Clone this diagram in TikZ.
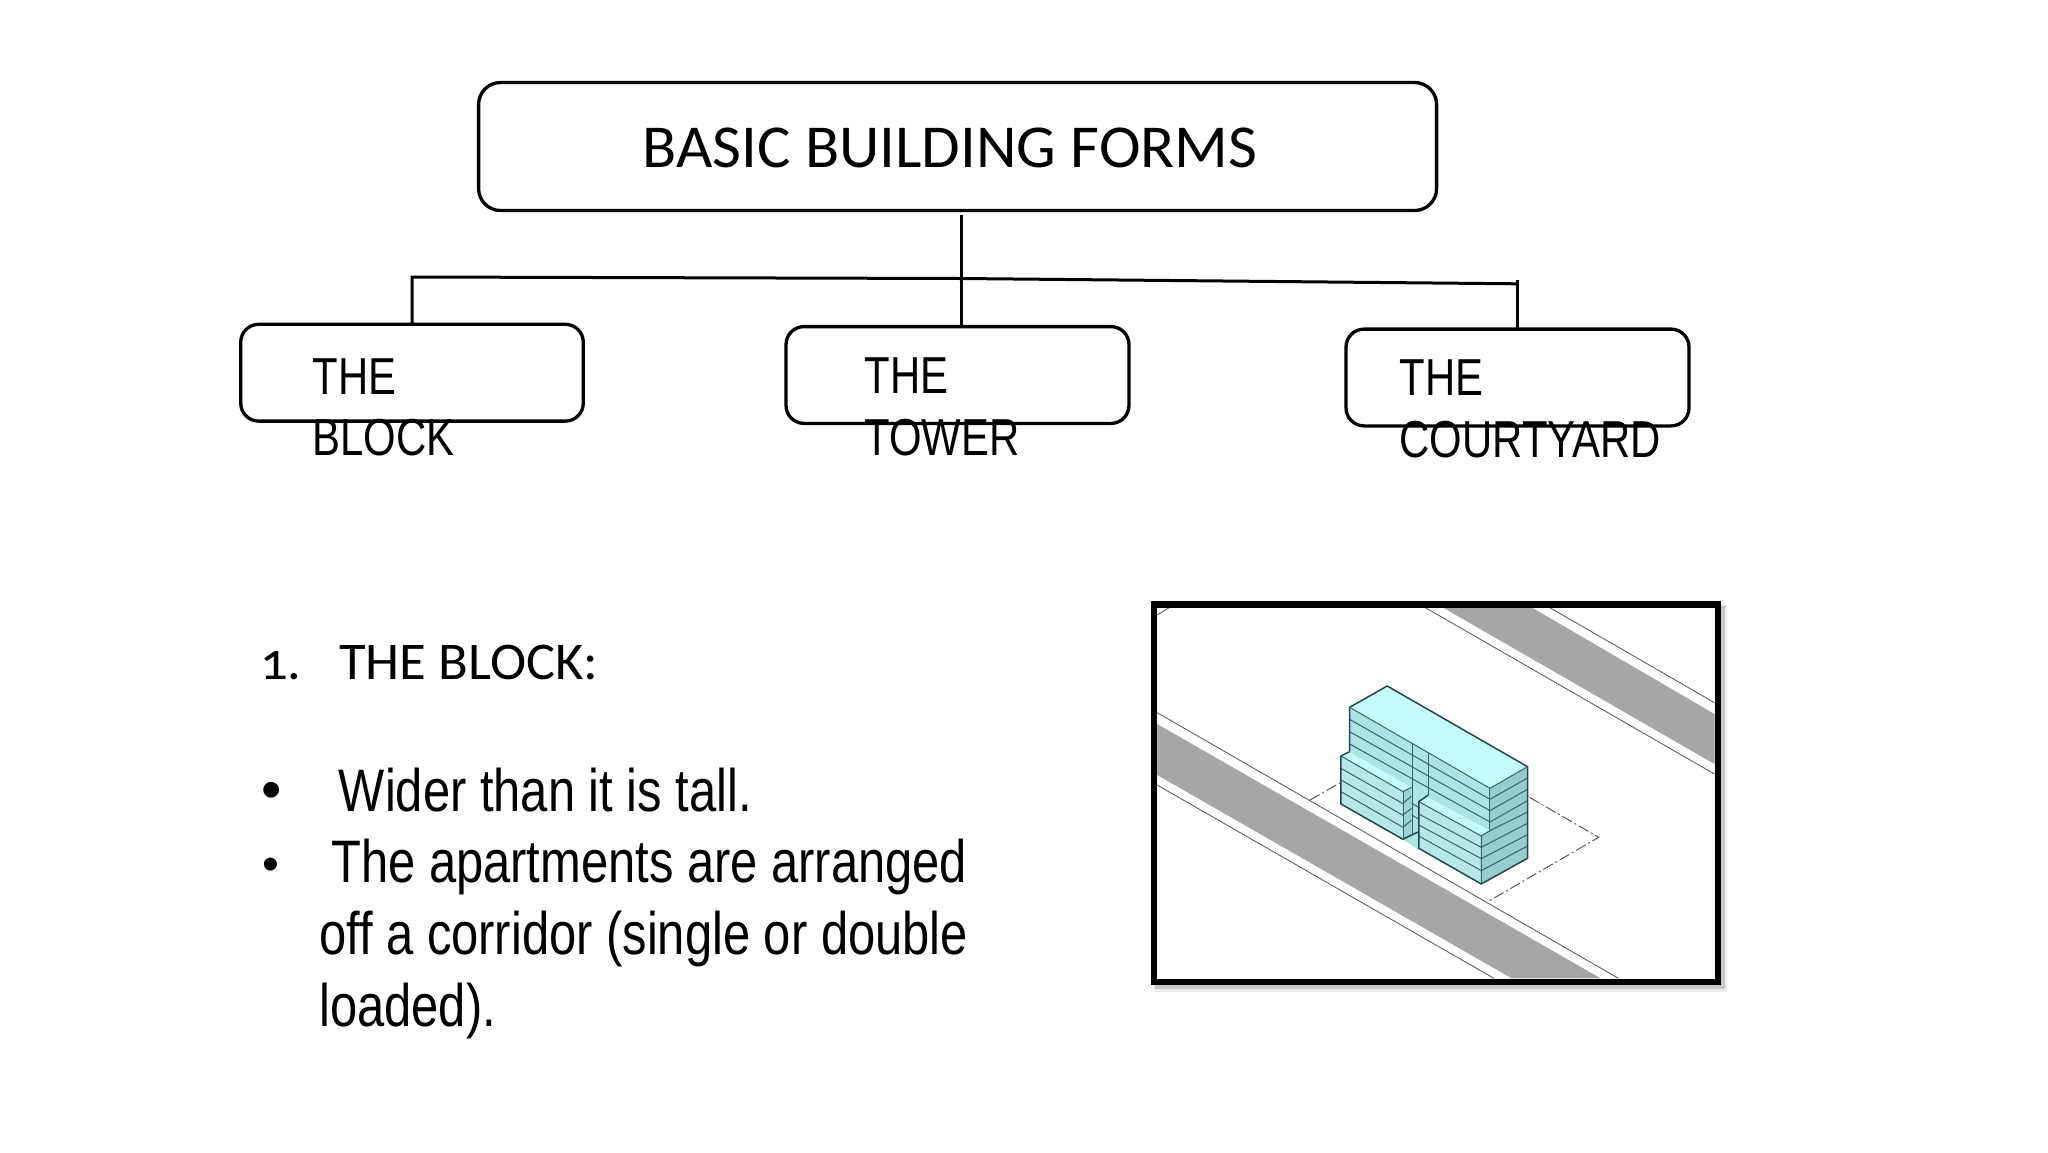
\documentclass[tikz,border=0pt]{standalone}
\usepackage{fontspec}
\setmainfont{Liberation Sans}
\newfontfamily\narrowf[FakeStretch=0.805]{Liberation Sans}
\newfontfamily\bodyf[FakeStretch=0.815]{Liberation Sans}
\newfontfamily\carl[Numbers=OldStyle,FakeStretch=1.03]{Carlito}
\definecolor{topc}{HTML}{C6FBFB}
\definecolor{frontc}{HTML}{ACE4E2}
\definecolor{sidec}{HTML}{95CDCC}
\definecolor{edgec}{HTML}{24464C}
\definecolor{floorc}{HTML}{35646A}
\definecolor{roadc}{HTML}{A6A5A7}
\tikzset{
  formbox/.style={draw=black,line width=3.3pt,rounded corners=18pt,fill=none,inner sep=0pt},
  link/.style={draw=black,line width=3pt},
  boxlabel/.style={inner sep=0pt,align=left,anchor=base west,font=\narrowf\fontsize{52}{61.5}\selectfont},
  bodytext/.style={inner sep=0pt,align=left,anchor=base west,font=\bodyf\fontsize{60}{72}\selectfont},
  heading/.style={inner sep=0pt,anchor=base west,font=\carl\fontsize{53}{60}\selectfont},
  thinline/.style={draw=black!62,line width=0.9pt},
  floor/.style={draw=floorc,line width=1pt},
  edge/.style={draw=edgec,line width=1.5pt,line join=round},
  plot/.style={draw=black!65,line width=1pt,dash pattern=on 11pt off 3pt on 2pt off 3pt}
}
\begin{document}
\begin{tikzpicture}[x=1pt,y=-1pt]
\useasboundingbox (0,0) rectangle (2048,1152);
\fill[white] (0,0) rectangle (2048,1152);
% tree
\node[formbox,rounded corners=22pt,minimum width=958pt,minimum height=128pt] (root) at (957.6,146.5) {};
\node[inner sep=0pt,anchor=base,font=\carl\fontsize{61}{70}\selectfont] (roottext) at (950,167.5) {BASIC BUILDING FORMS};
\node[formbox,minimum width=342.6pt,minimum height=96.8pt] (block) at (412,372.7) {};
\node[formbox,minimum width=343pt,minimum height=96.8pt] (tower) at (957.5,375) {};
\node[formbox,minimum width=343pt,minimum height=96.8pt] (court) at (1517.5,377.5) {};
\node[boxlabel] (blocktext) at (312.5,455.5) {THE\\BLOCK};
\node[boxlabel] (towertext) at (864.4,455.2) {THE\\TOWER};
\node[boxlabel] (courttext) at (1399.5,457) {THE\\COURTYARD};
\coordinate (rootfoot) at (961.5,214.5);
\coordinate (towerhead) at (961.5,327);
\coordinate (midbar) at (961.5,278.5);
\coordinate (leftbar) at (412,277);
\coordinate (rightbar) at (1517,283.8);
\coordinate (blockhead) at (412,324.5);
\coordinate (courthead) at (1517,329.2);
\coordinate (righttop) at (1517,280);
\draw[link] (rootfoot) -- (towerhead);
\draw[link] (blockhead) -- (leftbar) -- (midbar) -- (rightbar);
\draw[link] (righttop) -- (courthead);
% text
\node[heading] (num) at (260,679) {1.};
\node[heading] (blockhd) at (339,679) {THE BLOCK:};
\node[inner sep=0pt,font=\fontsize{58}{60}\selectfont] (bull1) at (272,796) {•};
\node[inner sep=0pt,font=\fontsize{48}{60}\selectfont] (bull2) at (270.7,869.5) {•};
\node[bodytext] (wider) at (338.7,811) {Wider than it is tall.};
\node[bodytext] (apart) at (319,1026.5) {\hspace*{12pt}The apartments are arranged\\off a corridor (single or double\\loaded).};
% picture frame
\fill[black,opacity=0.08] (1155,606) rectangle (1727,992);
\fill[black,opacity=0.14] (1154,605) rectangle (1725,989);
\fill[white] (1151,602) rectangle (1721,985);
\begin{scope}[shift={(1150,590)},x=0.3953pt,y=-0.3333pt]
 \begin{scope}
 \clip (18,52) rectangle (1428,1165);
 \fill[roadc] (18,402) -- (1140,1165) -- (915,1165) -- (18,555) -- cycle;
 \fill[roadc] (740,52) -- (965,52) -- (1428,372) -- (1428,522) -- cycle;
 \draw[thinline] (18,368) -- (1185,1165);
 \draw[thinline] (18,585) -- (870,1165);
 \draw[thinline] (695,52) -- (1428,552);
 \draw[thinline] (1010,52) -- (1428,338);
 \draw[thinline] (18,75) -- (50,52);
 \draw[plot] (405,630) -- (482,578);
 \draw[plot] (960,622) -- (1135,742) -- (855,935);
 \end{scope}
 % main block
 \fill[frontc] (505,352) -- (860,595) -- (860,725) -- (680,640) -- (680,780) -- (640,748) -- (640,610) -- (505,490) -- cycle;
 \fill[sidec] (860,595) -- (955,530) -- (955,805) -- (838,882) -- (838,738) -- (860,722) -- cycle;
 \fill[topc] (505,352) -- (600,288) -- (955,530) -- (860,595) -- cycle;
 \foreach \a/\b in {388/628,425/662,462/696}{\draw[floor] (505,\a) -- (860,\b);}
 \draw[floor] (665,460) -- (665,595);
 \draw[floor] (704,488) -- (704,615);
 \foreach \a/\b/\c in {860/628/564,860/662/598,860/696/632,860/722/666,838/772/700,838/806/734,838/842/768}{\draw[floor] (\a,\b) -- (955,\c);}
 \draw[floor] (860,595) -- (860,725);
 % recess
 \fill[sidec!70!frontc] (640,605) -- (662,592) -- (662,735) -- (640,748) -- cycle;
 \foreach \a/\b in {640/618,675/655,712/690}{\draw[floor] (640,\a) -- (662,\b);}
 \fill[frontc] (662,595) -- (704,615) -- (680,635) -- (680,735) -- (662,735) -- cycle;
 \draw[floor] (665,595) -- (665,735);
 \draw[floor] (662,640) -- (680,652);
 \draw[floor] (662,675) -- (680,688);
 % left wing
 \fill[frontc!85!white] (483,498) -- (640,605) -- (640,748) -- (483,642) -- cycle;
 \fill[topc] (483,498) -- (503,485) -- (662,592) -- (640,605) -- cycle;
 \foreach \a/\b in {535/641,570/676,605/712}{\draw[floor] (483,\a) -- (640,\b);}
 \draw[floor] (483,498) -- (640,605);
 \draw[edge] (505,485) -- (483,498) -- (483,642) -- (640,748) -- (662,735) -- (680,725);
 \draw[floor] (640,605) -- (640,748);
 \draw[floor] (640,605) -- (662,592);
 % right wing
 \fill[frontc!85!white] (680,635) -- (838,738) -- (838,882) -- (680,775) -- cycle;
 \fill[topc] (680,635) -- (700,620) -- (860,722) -- (838,738) -- cycle;
 \foreach \a/\b in {672/772,705/806,738/842}{\draw[floor] (680,\a) -- (838,\b);}
 \draw[floor] (680,635) -- (838,738) -- (838,882);
 \draw[floor] (838,738) -- (860,722);
 % outlines
 \draw[edge] (505,485) -- (505,352) -- (600,288) -- (955,530) -- (955,805) -- (838,882) -- (680,775) -- (680,635) -- (704,615);
 \draw[floor] (505,352) -- (860,595) -- (955,530);
 % frame
 \draw[black,line width=6.5pt] (10.5,43.5) rectangle (1436.5,1175.5);
\end{scope}
\end{tikzpicture}
\end{document}
